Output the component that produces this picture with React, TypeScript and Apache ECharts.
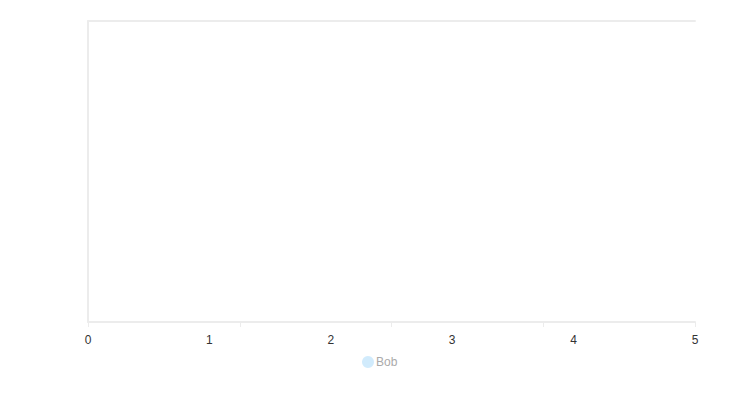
import React, { useEffect, useRef } from "react";
import * as echarts from "echarts";

// x axis: labelled every 1, ticks every 1.25
const xMin = 0;
const xMax = 5;
const labelStep = 1;
const tickStep = 1.25;

const seriesName = "Bob";
// the series has no points in the reference
const bobData: [number, number][] = [];

const LINE = "#ececec";

export default function App() {
    const ref = useRef<HTMLDivElement | null>(null);

    useEffect(() => {
        if (!ref.current) return;
        const inst = echarts.init(ref.current, undefined, { renderer: "svg" });

        const option: echarts.EChartsOption = {
            animation: false,
            textStyle: { fontFamily: "Liberation Sans, Arial, sans-serif" },
            grid: { left: 88, right: 48, top: 21, bottom: 92 },
            legend: {
                left: 357,
                top: 351,
                icon: "circle",
                itemWidth: 12,
                itemHeight: 12,
                itemGap: 10,
                textStyle: { color: "#aaa", fontSize: 12, padding: [0, 0, 0, -3] },
                data: [seriesName],
            },
            xAxis: [
                {
                    type: "value",
                    min: xMin,
                    max: xMax,
                    interval: labelStep,
                    position: "bottom",
                    axisLine: { show: true, lineStyle: { color: LINE, width: 2 } },
                    axisTick: { show: false },
                    splitLine: { show: false },
                    axisLabel: { color: "#333", fontSize: 12, margin: 12 },
                },
                {
                    type: "value",
                    min: xMin,
                    max: xMax,
                    interval: tickStep,
                    position: "bottom",
                    axisLine: { show: false },
                    axisTick: { show: true, length: 5, lineStyle: { color: LINE, width: 1 } },
                    splitLine: { show: false },
                    axisLabel: { show: false },
                },
                {
                    type: "value",
                    min: xMin,
                    max: xMax,
                    position: "top",
                    axisLine: { show: true, lineStyle: { color: LINE, width: 2 } },
                    axisTick: { show: false },
                    splitLine: { show: false },
                    axisLabel: { show: false },
                },
            ],
            yAxis: {
                type: "value",
                min: 0,
                max: 1,
                axisLine: { show: true, lineStyle: { color: LINE, width: 2 } },
                axisTick: { show: false },
                splitLine: { show: false },
                axisLabel: { show: false },
            },
            series: [
                {
                    name: seriesName,
                    type: "scatter",
                    xAxisIndex: 0,
                    color: "#c6e6fb",
                    data: bobData,
                },
            ],
        };

        inst.setOption(option);
        return () => {
            inst.dispose();
        };
    }, []);

    return (
        <div
            ref={ref}
            style={{ position: "absolute", left: 0, top: 0, width: 743, height: 414 }}
        />
    );
}
